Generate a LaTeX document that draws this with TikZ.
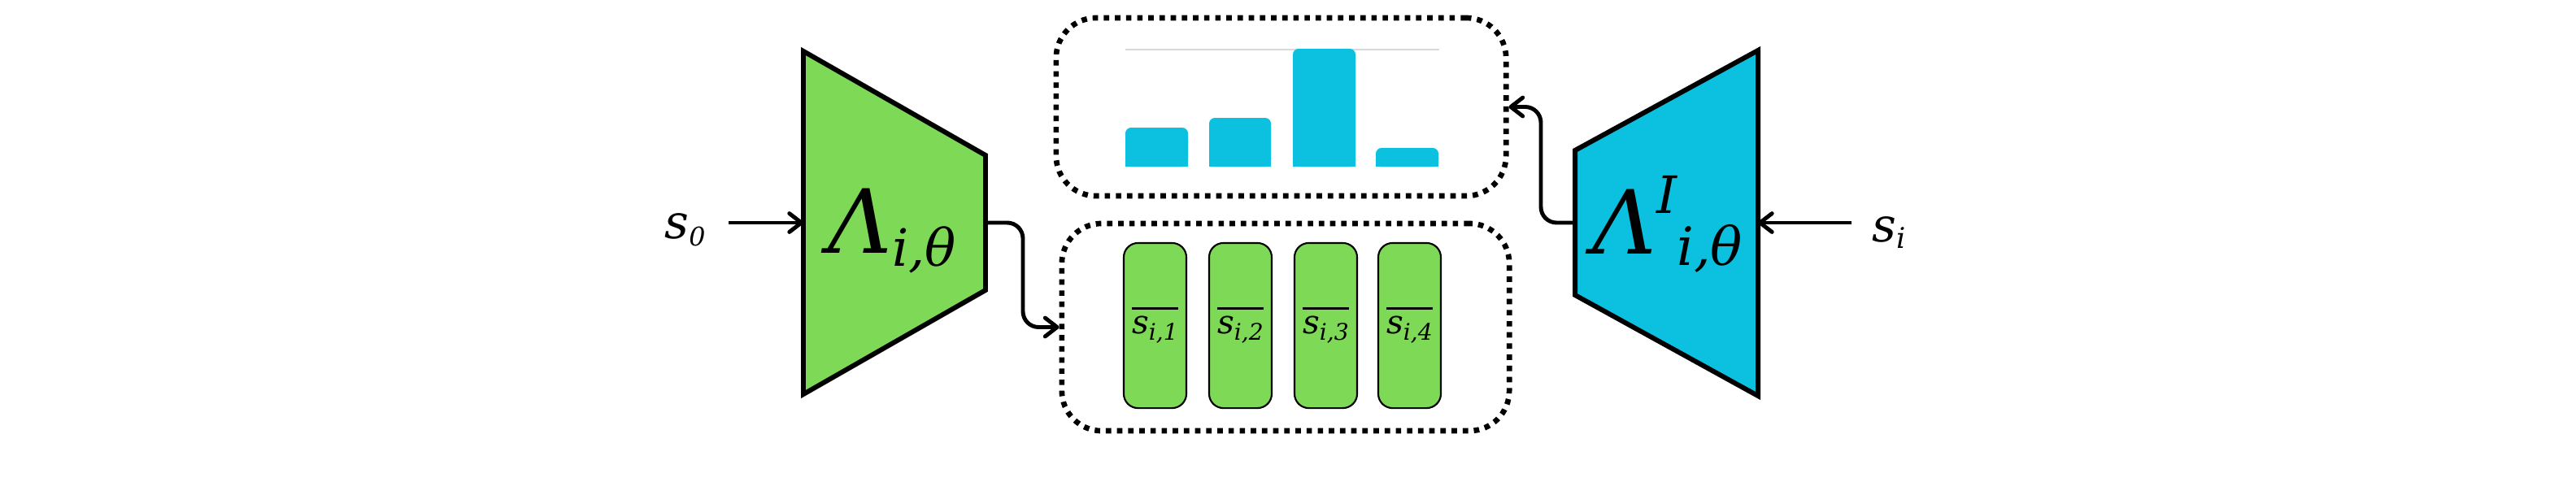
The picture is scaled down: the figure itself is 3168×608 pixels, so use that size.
\documentclass[tikz,border=0pt]{standalone}
\usepackage{fontspec}
\setmainfont{DejaVu Serif}
\usetikzlibrary{arrows.meta}
\definecolor{lgreen}{HTML}{7ED957}
\definecolor{lblue}{HTML}{0CC0DF}
\definecolor{lgray}{HTML}{D9D9D9}
\newcommand{\fs}[1]{\fontsize{#1}{#1}\selectfont}
\newcommand{\sbar}[1]{\setbox0\hbox{\itshape s\raisebox{-2.3pt}{\fs{8}#1}}\rlap{\rule[8.4pt]{\wd0}{0.85pt}}\box0}
\tikzset{
  trap/.style={draw, line width=1.7pt, line join=miter},
  arr/.style={line width=1.4pt, -{Straight Barb[length=4.2pt,width=6.5pt,round]}},
  dotbox/.style={draw, line width=1.9pt, dash pattern=on 1.9pt off 2pt, rounded corners=14pt, inner sep=0},
  srect/.style={draw, fill=lgreen, line width=0.6pt, rounded corners=5pt, minimum width=0.77cm, minimum height=2.03cm, inner sep=0, font=\fs{11.5}},
  lab/.style={anchor=base west, inner sep=0, font=\itshape}
}
\begin{document}
\begin{tikzpicture}[x=0.01cm,y=-0.01cm]
\useasboundingbox (0,0) rectangle (3168,608);

% encoder (green)
\draw[trap, fill=lgreen] (988,63) -- (1212,191) -- (1212,357) -- (988,485) -- cycle;
\coordinate (gL) at (988,274);
\coordinate (gR) at (1212,274);
\node[lab] (glab) at (1018,311) {{\fs{31}Λ}\raisebox{-4.8pt}{\fs{18}i,θ}};

% encoder (blue)
\draw[trap, fill=lblue] (1937,185) -- (2162,62) -- (2162,487) -- (1937,363) -- cycle;
\coordinate (bL) at (1937,274);
\coordinate (bR) at (2162,274);
\node[lab] (blab) at (1958,312) {{\fs{31}Λ}\raisebox{14pt}{\fs{18}I}\raisebox{-4pt}{\fs{18.5}i,θ}};

% inputs
\node[lab, font=\itshape\fs{16.5}] (s0) at (817,293) {s\raisebox{-2.6pt}{\fs{9}0}};
\node[lab, font=\itshape\fs{16.5}] (si) at (2302,297) {s\raisebox{-2.3pt}{\fs{10}i}};
\draw[arr, shorten <=0.28cm] (s0.east |- gL) -- (gL);
\draw[arr, shorten <=0.25cm] (si.west |- bR) -- (bR);

% dotted boxes
\node[dotbox, minimum width=5.53cm, minimum height=2.19cm] (boxT) at (1575.5,131.5) {};
\node[dotbox, minimum width=5.50cm, minimum height=2.55cm] (boxS) at (1581,402.5) {};

% bar chart
\draw[lgray, line width=0.6pt] (1384,61) -- (1770,61);
\foreach \a/\b/\t in {1384/1461/157, 1487/1563/145, 1590/1667/60, 1692/1769/182}{
  \fill[lblue, rounded corners=2pt] (\a,\t) rectangle (\b,205);
  \fill[lblue] (\a,\t+10) rectangle (\b,205);
}

% latent slots
\foreach \i/\x in {1/1420.5, 2/1525.5, 3/1630.5, 4/1733.5}{
  \node[srect] (r\i) at (\x,400.5) {\sbar{i,\i}};
}

% connectors
\draw[arr, rounded corners=5.5pt] (gR) -- ++(46,0) |- (boxS.west);
\draw[arr, rounded corners=5.5pt] (bL) -- ++(-42,0) |- (boxT.east);
\end{tikzpicture}
\end{document}
